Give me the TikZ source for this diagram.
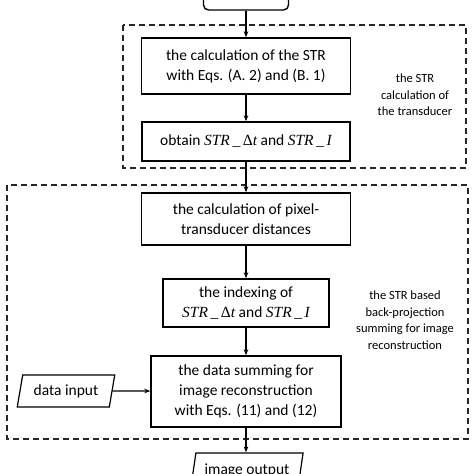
\documentclass[tikz,border=0pt]{standalone}
\usepackage{fontspec}
\setmainfont{Carlito}
\newfontfamily\tmsfont{Liberation Serif}
\usetikzlibrary{arrows.meta,shapes.geometric}
\newcommand{\strdt}{{\tmsfont\itshape STR\,\_\,\upshape Δ\itshape t}}
\newcommand{\stri}{{\tmsfont\itshape STR\,\_\,I}}
\tikzset{
  stepbox/.style={draw,line width=1.4pt,align=center,inner sep=0pt,
    font=\fontsize{15.5}{20}\selectfont},
  iobox/.style={draw,line width=1.2pt,trapezium,trapezium left angle=76,
    trapezium right angle=104,trapezium stretches=true,inner sep=2pt,
    font=\fontsize{15.5}{20}\selectfont},
  grpbox/.style={draw=black!85,dash pattern=on 6pt off 4pt,line width=1.2pt},
  grplabel/.style={align=center,font=\fontsize{12.5}{16.5}\selectfont},
  flow/.style={-{Stealth[length=6pt,width=4.5pt]},line width=1.2pt}
}
\begin{document}
\begin{tikzpicture}[x=1pt,y=-1pt]
  \useasboundingbox (0,0) rectangle (474,474);
  % groups
  \draw[grpbox] (123,25) rectangle (466,168);
  \draw[grpbox] (7,185) rectangle (468,439);
  \node[grplabel] (lbltrans) at (415,95) {the STR\\calculation of\\the transducer};
  \node[grplabel] (lblsum) at (405,320) {the STR based\\back-projection\\summing for image\\reconstruction};
  % steps
  \node[draw,rounded corners=5pt,line width=1.4pt,minimum width=85pt,minimum height=40pt] (start) at (246,-10) {};
  \node[stepbox,minimum width=209pt,minimum height=56pt] (calc) at (246,66)
    {the calculation of the STR\\with Eqs. (A. 2) and (B. 1)};
  \node[stepbox,minimum width=208pt,minimum height=39pt] (obtain) at (246,141.5)
    {obtain \strdt{} and \stri};
  \node[stepbox,minimum width=209pt,minimum height=52pt] (dist) at (246,219)
    {the calculation of pixel-\\transducer distances};
  \node[stepbox,minimum width=166pt,minimum height=48pt] (index) at (246,303)
    {the indexing of\\\strdt{} and \stri};
  \node[stepbox,minimum width=190pt,minimum height=71pt] (summ) at (246,391.5)
    {the data summing for\\image reconstruction\\with Eqs. (11) and (12)};
  \node[iobox,minimum width=98pt,minimum height=32pt] (datain) at (66,391) {data input};
  \node[iobox,minimum width=113pt,minimum height=34pt] (imgout) at (247,470) {image output};
  % flow
  \draw[flow] (start) -- (calc);
  \draw[flow] (calc) -- (obtain);
  \draw[flow] (obtain) -- (dist);
  \draw[flow] (dist) -- (index);
  \draw[flow] (index) -- (summ);
  \draw[flow] (datain) -- (datain -| summ.west);
  \draw[flow] (summ.south) -- (summ.south |- imgout.north);
\end{tikzpicture}
\end{document}
